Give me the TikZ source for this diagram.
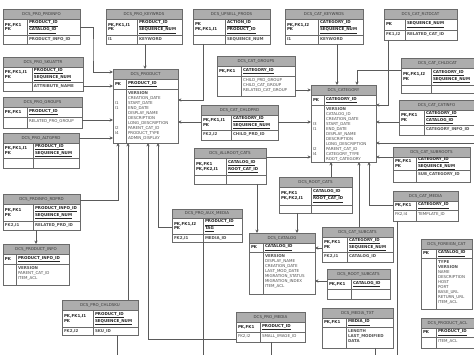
\documentclass[tikz,border=0pt]{standalone}
\usepackage{fontspec}
\newfontfamily\erfont{DejaVu Sans}
\usetikzlibrary{calc,arrows.meta}
\definecolor{bordc}{HTML}{6A6A6A}
\definecolor{hdrc}{HTML}{ADADAD}
\definecolor{linec}{HTML}{5A5A5A}
\definecolor{titc}{HTML}{3C3C3C}
\definecolor{plainc}{HTML}{505050}
\tikzset{
  tbl/.style={inner sep=0pt, outer sep=0pt, fill=white},
  tblb/.style={draw=bordc, line width=0.9pt},
  sep/.style={draw=bordc, line width=0.6pt},
  ttl/.style={font={\erfont\fontsize{4.0}{4.8}\selectfont}, text=titc, inner sep=0pt},
  kt/.style={font={\erfont\bfseries\fontsize{4.05}{4.9}\selectfont}, text=black!85, align=left, inner sep=0pt, xshift=1.8pt},
  bt/.style={font={\erfont\fontsize{4.0}{5.0}\selectfont}, text=plainc, align=left, inner sep=0pt, xshift=1.8pt, yshift=-2pt},
  con/.style={draw=linec, line width=0.6pt, -{Stealth[length=3.4pt,width=3.2pt]}},
  lin/.style={draw=linec, line width=0.6pt}
}
\newcommand\tbl[9]{%
  \node[tbl, minimum width={(#4-#2)*1pt}, minimum height={(#5-#3)*1pt}, anchor=north west] (#1) at (#2,#3) {};
  \fill[hdrc] (#1.north west) rectangle (#1.east|-0,#7);
  \draw[sep] (#1.west|-0,#7) -- (#1.east|-0,#7);
  \draw[sep] (#1.west|-0,#8) -- (#1.east|-0,#8);
  \draw[sep] (#6,#7) -- (#6,#5);
  \draw[tblb] (#1.north west) rectangle (#1.south east);
  \coordinate (#1D) at (#6,#7);
  \coordinate (#1K) at (#2,#8);
  \node[ttl] (#1T) at ({(#2+#4)/2},{(#3+#7)/2}) {#9};
}
\newcommand\tbt[5]{%
  \node[kt, anchor=west] (#1A) at ($(#1.west|-#1D)!.5!(#1K)$) {#2};
  \node[kt, anchor=west] (#1B) at ($(#1D)!.5!(#1D|-#1K)$) {#3};
  \node[bt, anchor=north west] (#1C) at (#1K) {#4};
  \node[bt, anchor=north west] (#1E) at (#1K-|#1D) {#5};
}
\newcommand\uk[1]{\underline{\textbf{#1}}}
\newcommand\ph{\phantom{I}}
\begin{document}
\begin{tikzpicture}[x=1pt,y=-1pt]
\useasboundingbox[fill=white] (0,0) rectangle (474,355);

% tables
\tbl{prdinfo}{3}{9}{80}{44}{27}{19}{35}{DCS\_PRO\_PRDINFO}
\tbt{prdinfo}{PK,FK1\\PK}{\uk{PRODUCT\_ID}\\\uk{CATALOG\_ID}}{}{\textbf{PRODUCT\_INFO\_ID}}

\tbl{prokw}{106}{9}{182}{44}{137}{19}{35}{DCS\_PRO\_KEYWRDS}
\tbt{prokw}{PK,FK1,I1\\PK}{\uk{PRODUCT\_ID}\\\uk{SEQUENCE\_NUM}}{\textbf{I1}}{\textbf{KEYWORD}}

\tbl{upsell}{193}{9}{270}{44}{225}{19}{35}{DCS\_UPSELL\_PRODS}
\tbt{upsell}{PK\\PK,FK1,I1}{\uk{ACTION\_ID}\\\uk{PRODUCT\_ID}}{}{\textbf{SEQUENCE\_NUM}}

\tbl{catkw}{285}{9}{363}{44}{318}{19}{35}{DCS\_CAT\_KEYWRDS}
\tbt{catkw}{PK,FK1,I2\\PK}{\uk{CATEGORY\_ID}\\\uk{SEQUENCE\_NUM}}{\textbf{I1}}{\textbf{KEYWORD}}

\tbl{rltdcat}{384}{9}{457}{40}{405}{19}{30}{DCS\_CAT\_RLTDCAT}
\tbt{rltdcat}{PK}{\uk{SEQUENCE\_NUM}}{\textbf{FK1,I2}}{\textbf{RELATED\_CAT\_ID}}

\tbl{skuattr}{3}{57}{83}{91}{32}{67}{82}{DCS\_PRO\_SKUATTR}
\tbt{skuattr}{PK,FK1,I1\\PK}{\uk{PRODUCT\_ID}\\\uk{SEQUENCE\_NUM}}{}{\textbf{ATTRIBUTE\_NAME}}

\tbl{catgroups}{217}{56}{295}{96}{241}{66}{76}{DCS\_CAT\_GROUPS}
\tbt{catgroups}{PK,FK1}{\uk{CATEGORY\_ID}}{}{CHILD\_PRD\_GROUP\\CHILD\_CAT\_GROUP\\RELATED\_CAT\_GROUP}

\tbl{chldcat}{401}{58}{474}{93}{431}{68}{85}{DCS\_CAT\_CHLDCAT}
\tbt{chldcat}{PK,FK1,I2\\PK}{\uk{CATEGORY\_ID}\\\uk{SEQUENCE\_NUM}}{}{}

\tbl{product}{113}{69}{178}{143}{126}{79}{89}{DCS\_PRODUCT}
\tbt{product}{PK}{\uk{PRODUCT\_ID}}{\ph\\\ph\\I1\\I1\\\ph\\\ph\\\ph\\I2\\I4}{\textbf{VERSION}\\CREATION\_DATE\\START\_DATE\\END\_DATE\\DISPLAY\_NAME\\DESCRIPTION\\LONG\_DESCRIPTION\\PARENT\_CAT\_ID\\PRODUCT\_TYPE\\ADMIN\_DISPLAY}

\tbl{category}{311}{85}{376}{162}{324}{95}{105}{DCS\_CATEGORY}
\tbt{category}{PK}{\uk{CATEGORY\_ID}}{\ph\\\ph\\\ph\\I3\\I1\\\ph\\\ph\\\ph\\I2\\I4}{\textbf{VERSION}\\CATALOG\_ID\\CREATION\_DATE\\START\_DATE\\END\_DATE\\DISPLAY\_NAME\\DESCRIPTION\\LONG\_DESCRIPTION\\PARENT\_CAT\_ID\\CATEGORY\_TYPE\\ROOT\_CATEGORY}

\tbl{progroups}{3}{97}{82}{128}{27}{107}{117}{DCS\_PRO\_GROUPS}
\tbt{progroups}{PK,FK1}{\uk{PRODUCT\_ID}}{}{RELATED\_PRO\_GROUP}

\tbl{catinfo}{399}{100}{474}{135}{424}{110}{125}{DCS\_CAT\_CATINFO}
\tbt{catinfo}{PK,FK1\\PK}{\uk{CATEGORY\_ID}\\\uk{CATALOG\_ID}}{}{\textbf{CATEGORY\_INFO\_ID}}

\tbl{chldprd}{201}{105}{278}{140}{231}{115}{130}{DCS\_CAT\_CHLDPRD}
\tbt{chldprd}{PK,FK1,I1\\PK}{\uk{CATEGORY\_ID}\\\uk{SEQUENCE\_NUM}}{\textbf{FK2,I2}}{\textbf{CHILD\_PRD\_ID}}

\tbl{altgprd}{3}{133}{79}{168}{33}{143}{158}{DCS\_PRO\_ALTGPRD}
\tbt{altgprd}{PK,FK1,I1\\PK}{\uk{PRODUCT\_ID}\\\uk{SEQUENCE\_NUM}}{}{}

\tbl{subroots}{393}{147}{470}{182}{416}{157}{170}{DCS\_CAT\_SUBROOTS}
\tbt{subroots}{PK,FK1\\PK}{\uk{CATEGORY\_ID}\\\uk{SEQUENCE\_NUM}}{}{\textbf{SUB\_CATEGORY\_ID}}

\tbl{allroot}{194}{148}{266}{184}{226}{158}{175}{DCS\_ALLROOT\_CATS}
\tbt{allroot}{PK,FK1\\PK,FK2,I1}{\uk{CATALOG\_ID}\\\uk{ROOT\_CAT\_ID}}{}{}

\tbl{rootcats}{279}{177}{352}{213}{311}{187}{205}{DCS\_ROOT\_CATS}
\tbt{rootcats}{PK,FK1\\PK,FK2,I1}{\uk{CATALOG\_ID}\\\uk{ROOT\_CAT\_ID}}{}{}

\tbl{catmedia}{393}{191}{458}{221}{416}{201}{210}{DCS\_CAT\_MEDIA}
\tbt{catmedia}{PK,FK1}{\uk{CATEGORY\_ID}}{FK2,I4}{TEMPLATE\_ID}

\tbl{rdprd}{3}{194}{80}{230}{33}{204}{221}{DCS\_PRDINFO\_RDPRD}
\tbt{rdprd}{PK,FK1\\PK}{\uk{PRODUCT\_INFO\_ID}\\\uk{SEQUENCE\_NUM}}{\textbf{FK2,I1}}{\textbf{RELATED\_PRD\_ID}}

\tbl{auxmedia}{172}{209}{242}{242}{203}{218}{234}{DCS\_PRO\_AUX\_MEDIA}
\tbt{auxmedia}{PK,FK1,I2\\PK}{\uk{PRODUCT\_ID}\\\uk{TAG}}{\textbf{FK2,I1}}{\textbf{MEDIA\_ID}}

\tbl{catsubcats}{322}{227}{393}{262}{347}{237}{252}{DCS\_CAT\_SUBCATS}
\tbt{catsubcats}{PK,FK1\\PK}{\uk{CATEGORY\_ID}\\\uk{SEQUENCE\_NUM}}{\textbf{FK2,I1}}{\textbf{CATALOG\_ID}}

\tbl{catalog}{249}{233}{315}{294}{263}{243}{252}{DCS\_CATALOG}
\tbt{catalog}{PK}{\uk{CATALOG\_ID}}{}{\textbf{VERSION}\\DISPLAY\_NAME\\CREATION\_DATE\\LAST\_MOD\_DATE\\MIGRATION\_STATUS\\MIGRATION\_INDEX\\ITEM\_ACL}

\tbl{foreign}{421}{239}{472}{309}{436}{249}{258}{DCS\_FOREIGN\_CAT}
\tbt{foreign}{PK}{\uk{CATALOG\_ID}}{}{\textbf{TYPE}\\\textbf{VERSION}\\NAME\\DESCRIPTION\\HOST\\PORT\\BASE\_URL\\RETURN\_URL\\ITEM\_ACL}

\tbl{prodinfo}{3}{244}{69}{285}{16}{254}{264}{DCS\_PRODUCT\_INFO}
\tbt{prodinfo}{PK}{\uk{PRODUCT\_INFO\_ID}}{}{\textbf{VERSION}\\PARENT\_CAT\_ID\\ITEM\_ACL}

\tbl{rootsubcats}{327}{269}{390}{299}{351}{279}{289}{DCS\_ROOT\_SUBCATS}
\tbt{rootsubcats}{PK,FK1}{\uk{CATALOG\_ID}}{}{}

\tbl{chldsku}{62}{300}{138}{335}{93}{310}{327}{DCS\_PRO\_CHLDSKU}
\tbt{chldsku}{PK,FK1,I1\\PK}{\uk{PRODUCT\_ID}\\\uk{SEQUENCE\_NUM}}{\textbf{FK2,I2}}{\textbf{SKU\_ID}}

\tbl{promedia}{236}{312}{305}{342}{260}{322}{332}{DCS\_PRO\_MEDIA}
\tbt{promedia}{PK,FK1}{\uk{PRODUCT\_ID}}{FK2,I2}{SMALL\_IMAGE\_ID}

\tbl{mediatxt}{322}{308}{393}{348}{346}{318}{327}{DCS\_MEDIA\_TXT}
\tbt{mediatxt}{PK,FK1}{\uk{MEDIA\_ID}}{}{\textbf{LENGTH}\\\textbf{LAST\_MODIFIED}\\\textbf{DATA}}

\tbl{productacl}{421}{318}{474}{348}{436}{328}{337}{DCS\_PRODUCT\_ACL}
\tbt{productacl}{PK}{\uk{PRODUCT\_ID}}{}{ITEM\_ACL}

% free ends
\coordinate (oR) at (474,143);
\coordinate (oA) at (117,355);
\coordinate (oB) at (203,355);
\coordinate (oC) at (271,355);
\coordinate (oD) at (375,355);
\coordinate (oE) at (397,355);

% connectors into DCS_PRODUCT
\draw[con] (prdinfo.east|-0,27) -| (93,50) |- (product.west|-0,72);
\draw[con] (skuattr.east|-0,86) -- (product.west|-0,86);
\draw[con] (progroups.east|-0,120) -- (product.west|-0,120);
\draw[con] (altgprd.east|-0,138) -- (product.west|-0,138);
\draw[con] (rdprd.east|-0,200) -| (product.south-|118,0);
\draw[con] (chldsku.north-|128,0) -- (product.south-|128,0);
\draw[con] (promedia.west|-0,339) -| (product.south-|148,0);
\draw[con] (auxmedia.west|-0,227) -| (product.south-|158,0);
\draw[con] (prokw.south-|145,0) -- (product.north-|145,0);
\draw[con] (upsell.south-|203,0) |- (product.east|-0,100);
\draw[con] (chldprd.west|-0,122) -- (product.east|-0,122);
\draw[con] (rdprd.south-|36,0) -- (prodinfo.north-|36,0);

% connectors into DCS_CATEGORY
\draw[con] (chldprd.east|-0,122) -- (category.west|-0,122);
\draw[con] (catgroups.east|-0,90) -- (category.west|-0,90);
\draw[con] (allroot.east|-0,157) -- (category.west|-0,157);
\draw[con] (rootcats.north-|331,0) -- (category.south-|331,0);
\draw[con] (catsubcats.north-|359,0) -- (category.south-|359,0);
\draw[con] (catmedia.west|-0,205) -| (category.south-|369,0);
\draw[con] (catkw.south-|337,0) -- (category.north-|337,0);
\draw[con] (chldcat.west|-0,70) -| (category.north-|357,0);
\draw[con] (rltdcat.south-|388,0) |- (category.east|-0,105);
\draw[con] (catinfo.west|-0,122) -- (category.east|-0,122);
\draw[con] (oR) -- (category.east|-0,143);
\draw[con] (subroots.west|-0,157) -- (category.east|-0,157);

% connectors into DCS_CATALOG
\draw[con] (allroot.south-|257,0) -- (catalog.north-|257,0);
\draw[con] (rootcats.south-|297,0) -- (catalog.north-|297,0);
\draw[con] (catsubcats.west|-0,248) -- (catalog.east|-0,248);
\draw[con] (rootsubcats.west|-0,281) -- (catalog.east|-0,281);

% lines leaving the picture
\draw[lin] (chldsku.south-|117,0) -- (oA);
\draw[lin] (auxmedia.south-|203,0) -- (oB);
\draw[lin] (promedia.south-|271,0) -- (oC);
\draw[lin] (mediatxt.south-|375,0) -- (oD);
\draw[lin] (catmedia.south-|397,0) -- (oE);
\end{tikzpicture}
\end{document}
